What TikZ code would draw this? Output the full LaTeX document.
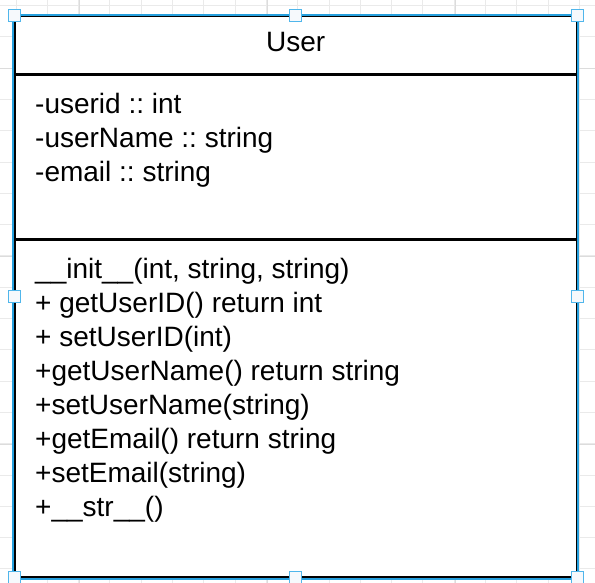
\documentclass[tikz,border=0pt]{standalone}
\usepackage{fontspec}
\setmainfont{Liberation Sans}
\usepackage{xcolor}
\usetikzlibrary{positioning, calc}
\frenchspacing

\definecolor{gridgray}{RGB}{234,234,234}
\definecolor{gridmajor}{RGB}{220,220,220}
\definecolor{selblue}{RGB}{38,160,222}
\definecolor{handleblue}{RGB}{80,182,235}
\definecolor{handlefill}{RGB}{246,249,252}

\begin{document}
\begin{tikzpicture}[
    x=1pt, y=-1pt,
    gridline/.style={gridgray, line width=0.9pt},
    majorline/.style={gridmajor, line width=0.9pt},
    classbox/.style={draw=black, line width=2.4pt, fill=white, minimum width=562.5pt, minimum height=561.5pt, inner sep=0pt, outer sep=0pt},
    sepline/.style={black, line width=2.8pt},
    selection/.style={draw=selblue, line width=2pt},
    handle/.style={draw=handleblue, fill=handlefill, line width=1pt, minimum size=12pt, inner sep=0pt},
    title/.style={font=\fontsize{28}{34}\selectfont, anchor=base, inner sep=0pt},
    members/.style={font=\fontsize{28}{34}\selectfont, align=left, anchor=base west, inner sep=0pt}
]

\useasboundingbox (0,0) rectangle (595,583);
\fill[white] (0,0) rectangle (595,583);

% Grid
\foreach \k in {0,...,18} {
    \draw[gridline] (16+31.3*\k,0) -- (16+31.3*\k,583);
    \draw[gridline] (0,5.5+31.3*\k) -- (595,5.5+31.3*\k);
}
\foreach \k in {0,1,2} {
    \draw[majorline] (79+188*\k,0) -- (79+188*\k,583);
    \draw[majorline] (0,68+188*\k) -- (595,68+188*\k);
}

% Class box
\node[classbox] (user) at (295.75,296.75) {};
\node[title] (name) at (295.75,52) {User};

% Compartments
\coordinate (sepA) at (0,74.5);
\coordinate (sepB) at (0,239.5);
\draw[sepline] (user.west |- sepA) -- (user.east |- sepA);
\draw[sepline] (user.west |- sepB) -- (user.east |- sepB);

% base anchor = baseline of the last line
\node[members] (attrs) at (35,182) {-userid :: int\\-userName :: string\\-email :: string};
\node[members] (methods) at (35,516.5) {\_\_init\_\_(int, string, string)\\
    + getUserID() return int\\
    + setUserID(int)\\
    +getUserName() return string\\
    +setUserName(string)\\
    +getEmail() return string\\
    +setEmail(string)\\
    +\_\_str\_\_()};

% Selection
\draw[selection] ($(user.north west)+(-1.2,-1.2)$) rectangle ($(user.south east)+(1.2,1.2)$);
\node[handle] (hnw) at (user.north west) {};
\node[handle] (hn) at (user.north) {};
\node[handle] (hne) at (user.north east) {};
\node[handle] (he) at (user.east) {};
\node[handle] (hse) at (user.south east) {};
\node[handle] (hs) at (user.south) {};
\node[handle] (hsw) at (user.south west) {};
\node[handle] (hw) at (user.west) {};

\end{tikzpicture}
\end{document}
